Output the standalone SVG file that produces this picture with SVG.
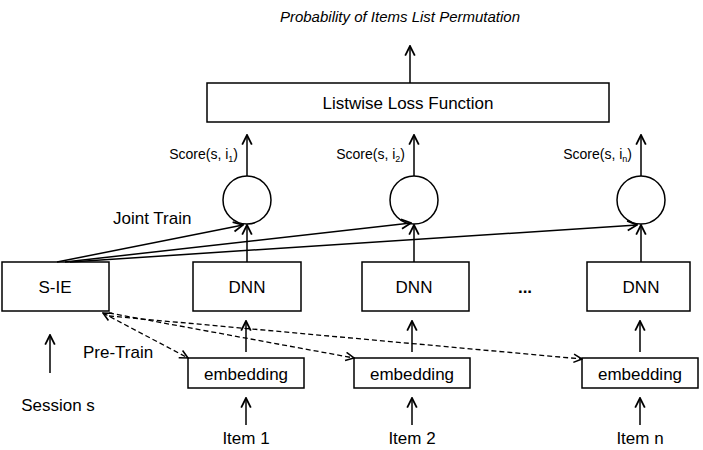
<svg xmlns="http://www.w3.org/2000/svg" width="703" height="450" viewBox="0 0 703 450">
<defs>
<marker id="a" viewBox="0 0 10 10" refX="9" refY="5" markerWidth="8" markerHeight="8" orient="auto-start-reverse"><path d="M1,1 L9,5 L1,9" fill="none" stroke="#000" stroke-width="1.5"/></marker>
</defs>
<style>
text{font-family:"Liberation Sans",Arial,sans-serif;fill:#000}
.b{fill:#fff;stroke:#000;stroke-width:1.5}
.l{stroke:#000;stroke-width:1.5;fill:none}
.d{stroke:#000;stroke-width:1.3;fill:none;stroke-dasharray:5,3}
.t{font-size:17px;text-anchor:middle}
.s{font-size:14px;text-anchor:end}
</style>
<rect width="703" height="450" fill="#fff"/>
<text x="400" y="22" text-anchor="middle" font-style="italic" font-size="15">Probability of Items List Permutation</text>
<g id="loss"><rect class="b" x="207" y="83" width="402" height="39"/><text class="t" x="408" y="109">Listwise Loss Function</text></g>
<g id="c1"><circle class="b" cx="247" cy="200" r="24"/></g>
<g id="c2"><circle class="b" cx="414" cy="200" r="24"/></g>
<g id="c3"><circle class="b" cx="641" cy="200" r="24"/></g>
<g id="sie"><rect class="b" x="2" y="262" width="107" height="49"/><text class="t" x="55" y="293">S-IE</text></g>
<g id="dnn1"><rect class="b" x="193" y="262" width="108" height="49"/><text class="t" x="247" y="293">DNN</text></g>
<g id="dnn2"><rect class="b" x="362" y="262" width="107" height="49"/><text class="t" x="414" y="293">DNN</text></g>
<g id="dnn3"><rect class="b" x="587" y="262" width="103" height="49"/><text class="t" x="641" y="293">DNN</text></g>
<text class="t" x="525" y="293" font-weight="bold">...</text>
<g id="e1"><rect class="b" x="188" y="358" width="116" height="30"/><text class="t" x="246" y="380">embedding</text></g>
<g id="e2"><rect class="b" x="354" y="358" width="116" height="30"/><text class="t" x="412" y="380">embedding</text></g>
<g id="e3"><rect class="b" x="582" y="358" width="116" height="30"/><text class="t" x="640" y="380">embedding</text></g>
<text class="t" x="246" y="444">Item 1</text>
<text class="t" x="412" y="444">Item 2</text>
<text class="t" x="640" y="444">Item n</text>
<text class="t" x="58" y="411">Session s</text>
<text class="s" x="238" y="159">Score(s, i<tspan font-size="9" dy="3">1</tspan><tspan dy="-3">)</tspan></text>
<text class="s" x="405" y="159">Score(s, i<tspan font-size="9" dy="3">2</tspan><tspan dy="-3">)</tspan></text>
<text class="s" x="632" y="159">Score(s, i<tspan font-size="9" dy="3">n</tspan><tspan dy="-3">)</tspan></text>
<text x="113" y="224" font-size="17">Joint Train</text>
<text x="83" y="358" font-size="17">Pre-Train</text>
<g id="connectors">
<line class="l" x1="410" y1="83" x2="410" y2="46" marker-end="url(#a)"/>
<line class="l" x1="247" y1="176" x2="247" y2="135" marker-end="url(#a)"/>
<line class="l" x1="414" y1="176" x2="414" y2="135" marker-end="url(#a)"/>
<line class="l" x1="641" y1="176" x2="641" y2="135" marker-end="url(#a)"/>
<line class="l" x1="247" y1="262" x2="247" y2="225" marker-end="url(#a)"/>
<line class="l" x1="414" y1="262" x2="414" y2="225" marker-end="url(#a)"/>
<line class="l" x1="641" y1="262" x2="641" y2="225" marker-end="url(#a)"/>
<line class="l" x1="246" y1="352" x2="246" y2="321" marker-end="url(#a)"/>
<line class="l" x1="412" y1="352" x2="412" y2="321" marker-end="url(#a)"/>
<line class="l" x1="640" y1="352" x2="640" y2="321" marker-end="url(#a)"/>
<line class="l" x1="246" y1="425" x2="246" y2="398" marker-end="url(#a)"/>
<line class="l" x1="412" y1="425" x2="412" y2="398" marker-end="url(#a)"/>
<line class="l" x1="640" y1="425" x2="640" y2="398" marker-end="url(#a)"/>
<line class="l" x1="50" y1="373" x2="50" y2="335" marker-end="url(#a)"/>
<line class="l" x1="57" y1="262" x2="243" y2="225" marker-end="url(#a)"/>
<line class="l" x1="65" y1="262" x2="411" y2="223" marker-end="url(#a)"/>
<line class="l" x1="70" y1="262" x2="637" y2="225" marker-end="url(#a)"/>
<line class="d" x1="103" y1="313" x2="188" y2="358" marker-start="url(#a)" marker-end="url(#a)"/>
<line class="d" x1="109" y1="313" x2="354" y2="358" marker-end="url(#a)"/>
<line class="d" x1="109" y1="316" x2="582" y2="359" marker-end="url(#a)"/>
</g>
</svg>
